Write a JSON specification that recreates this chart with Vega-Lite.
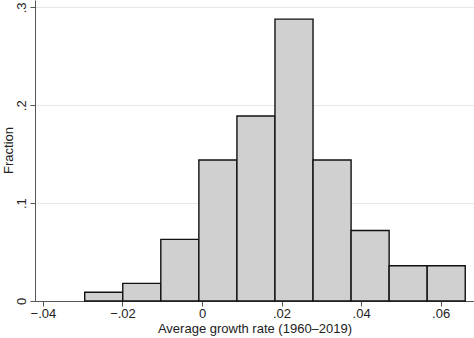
{
  "$schema": "https://vega.github.io/schema/vega-lite/v6.json",
  "width": 439,
  "height": 301,
  "autosize": {"type": "none"},
  "padding": {"left": 35, "top": 0, "right": 0, "bottom": 37},
  "background": "white",
  "config": {
    "view": {"stroke": null},
    "font": "Liberation Sans",
    "axis": {"labelFont": "Liberation Sans", "titleFont": "Liberation Sans", "labelFontSize": 13, "titleFontSize": 13, "titleFontWeight": "normal", "labelColor": "#222", "titleColor": "#222", "domainColor": "#555", "tickColor": "#555"}
  },
  "data": {
    "values": [
      {"bin_start": -0.0295, "bin_end": -0.01993, "fraction": 0.009},
      {"bin_start": -0.01993, "bin_end": -0.01036, "fraction": 0.018},
      {"bin_start": -0.01036, "bin_end": -0.00079, "fraction": 0.063},
      {"bin_start": -0.00079, "bin_end": 0.00878, "fraction": 0.144},
      {"bin_start": 0.00878, "bin_end": 0.01835, "fraction": 0.189},
      {"bin_start": 0.01835, "bin_end": 0.02792, "fraction": 0.288},
      {"bin_start": 0.02792, "bin_end": 0.03749, "fraction": 0.144},
      {"bin_start": 0.03749, "bin_end": 0.04706, "fraction": 0.072},
      {"bin_start": 0.04706, "bin_end": 0.05663, "fraction": 0.036},
      {"bin_start": 0.05663, "bin_end": 0.0662, "fraction": 0.036}
    ]
  },
  "mark": {"type": "rect", "fill": "#d0d0d0", "stroke": "#111", "strokeWidth": 1.4},
  "encoding": {
    "x": {
      "field": "bin_start", "type": "quantitative",
      "scale": {"domain": [-0.042, 0.0684], "nice": false, "zero": false},
      "axis": {
        "values": [-0.04, -0.02, 0, 0.02, 0.04, 0.06],
        "labelExpr": "datum.value == 0 ? '0' : replace(format(datum.value, '.2~f'), '0.', '.')",
        "grid": false, "tickSize": 5, "labelPadding": 1, "titlePadding": 2,
        "title": "Average growth rate (1960–2019)", "labelFlush": false
      }
    },
    "x2": {"field": "bin_end"},
    "y": {
      "field": "fraction", "type": "quantitative",
      "scale": {"domain": [0, 0.3075], "nice": false},
      "axis": {
        "values": [0, 0.1, 0.2, 0.3],
        "labelExpr": "datum.value == 0 ? '0' : replace(format(datum.value, '.1~f'), '0.', '.')",
        "labelAngle": 270, "labelAlign": "center", "labelBaseline": "bottom",
        "grid": true, "gridColor": "#e8e8e8", "gridWidth": 1,
        "tickSize": 5, "labelPadding": 2,
        "title": "Fraction", "labelFlush": false,
        "titleX": -27, "titleY": 150, "titleAngle": 270, "titleAlign": "center", "titleBaseline": "middle"
      }
    },
    "y2": {"datum": 0}
  }
}
